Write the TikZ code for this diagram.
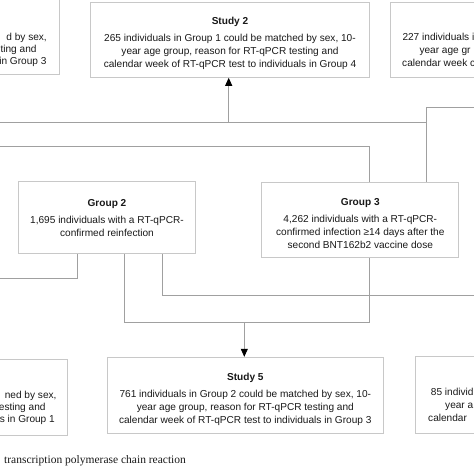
\documentclass[tikz,border=0pt]{standalone}
\usepackage{fontspec}
\setmainfont{Liberation Sans}
\newfontfamily\notefont{Liberation Serif}
\usetikzlibrary{arrows.meta}
\definecolor{boxgray}{RGB}{200,200,200}
\definecolor{linegray}{RGB}{160,160,160}
\definecolor{inkgray}{RGB}{25,25,25}

\begin{document}
\begin{tikzpicture}[x=1pt,y=-1pt,
  box/.style={draw=boxgray, line width=1pt, fill=white, inner sep=0pt, align=center, text=inkgray, font=\fontsize{10.1}{13}\selectfont},
  frag/.style={inner sep=0pt, text=inkgray, text height=7.2pt, text depth=2.1pt, font=\fontsize{10.1}{13}\selectfont},
  wire/.style={draw=linegray, line width=0.8pt},
  tip/.style={wire, -{Triangle[length=8pt,width=7pt,color=black]}}]
\useasboundingbox (0,0) rectangle (474,474);
\clip (0,0) rectangle (474,474);
\node[box, minimum width=200pt, minimum height=78pt] (study1) at (-41,35) {};
\node[frag, anchor=east] (s1a) at (47,38) {d by sex,};
\node[frag, anchor=east] (s1b) at (36.7,50) {ting and};
\node[frag, anchor=east] (s1c) at (46.7,62) {in Group 3};
\node[box, minimum width=278.6pt, minimum height=74.6pt] (study2) at (230,40) {\rule{0pt}{15pt}\textbf{Study 2}\\[4pt]265 individuals in Group 1 could be matched by sex, 10-\\year age group, reason for RT-qPCR testing and\\calendar week of RT-qPCR test to individuals in Group 4};
\node[box, minimum width=200pt, minimum height=75.3pt] (study3) at (490,40.3) {};
\node[frag, anchor=west] (s3a) at (402.3,38) {227 individuals i};
\node[frag, anchor=west] (s3b) at (419.3,51) {year age gr};
\node[frag, anchor=west] (s3c) at (402,64) {calendar week c};
\node[box, minimum width=177.4pt, minimum height=72.3pt] (group2) at (107,217.8) {\textbf{Group 2}\\[4pt]1,695 individuals with a RT-qPCR-\\confirmed reinfection};
\node[box, minimum width=196.7pt, minimum height=75.7pt] (group3) at (360.3,220) {\rule{0pt}{15pt}\textbf{Group 3}\\[4pt]4,262 individuals with a RT-qPCR-\\confirmed infection ≥14 days after the\\second BNT162b2 vaccine dose};
\node[box, minimum width=200pt, minimum height=76pt] (study4) at (-32.3,397.3) {};
\node[frag, anchor=east] (s4a) at (56.7,396) {ned by sex,};
\node[frag, anchor=east] (s4b) at (45.7,408.3) {esting and};
\node[frag, anchor=east] (s4c) at (55,420) {s in Group 1};
\node[box, minimum width=276pt, minimum height=76pt] (study5) at (245.3,395.3) {\rule{0pt}{15pt}\textbf{Study 5}\\[4pt]761 individuals in Group 2 could be matched by sex, 10-\\year age group, reason for RT-qPCR testing and\\calendar week of RT-qPCR test to individuals in Group 3};
\node[box, minimum width=200pt, minimum height=76.6pt] (study6) at (515.7,395) {};
\node[frag, anchor=west] (s6a) at (430.7,392.7) {85 individ};
\node[frag, anchor=west] (s6b) at (445,406) {year a};
\node[frag, anchor=west] (s6c) at (428,419.3) {calendar};
\coordinate (w1) at (0,122.7);
\coordinate (w2) at (0,146);
\coordinate (w3) at (0,278.3);
\coordinate (e1) at (474,107);
\coordinate (e2) at (474,295.7);
\coordinate (r1) at (426.7,107);
\coordinate (j2) at (228.7,122.7);
\coordinate (j5) at (244.3,322.3);
\coordinate (m1) at (77.3,278.3);
\coordinate (m2) at (162.7,295.7);
\coordinate (m3) at (369,322.3);
\coordinate (g2b) at (124,322.3);
\draw[wire] (w1) -- (w1 -| r1);
\draw[wire] (r1 |- group3.north) -- (r1) -- (e1);
\draw[tip] (j2) -- (j2 |- study2.south);
\draw[wire] (w2) -- (w2 -| m3) -- (m3 |- group3.north);
\draw[wire] (m1 |- group2.south) -- (m1) -- (w3);
\draw[wire] (m2 |- group2.south) -- (m2) -- (e2);
\draw[wire] (g2b |- group2.south) -- (g2b) -- (m3) -- (m3 |- group3.south);
\draw[tip] (j5) -- (j5 |- study5.north);
\node[anchor=west, inner sep=0pt, text=inkgray, font=\notefont\fontsize{11.5}{13}\selectfont] (note) at (4,460.7) {transcription polymerase chain reaction};
\end{tikzpicture}
\end{document}
